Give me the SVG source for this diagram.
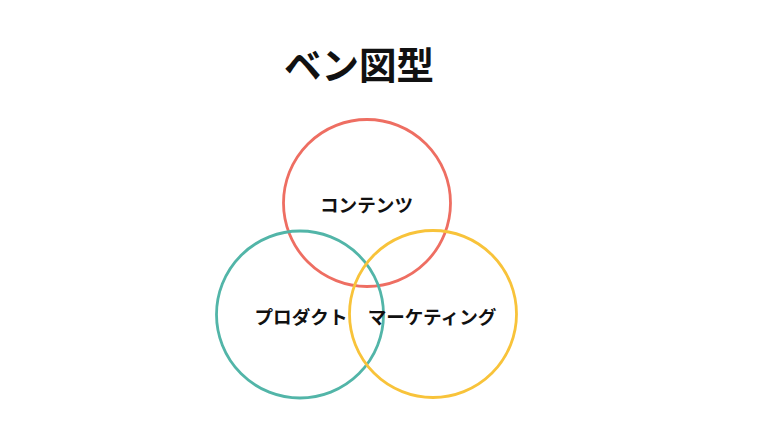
<svg xmlns="http://www.w3.org/2000/svg" width="768" height="437" viewBox="0 0 768 437">
<style>
.t{font-family:"Noto Sans CJK JP","Noto Sans",sans-serif;font-weight:bold;fill:#111;text-anchor:middle}
.c{fill:none;stroke-width:2.8}
</style>
<rect width="768" height="437" fill="#ffffff"/>
<text class="t" x="359" y="79" font-size="37.5">ベン図型</text>
<g id="contents"><circle class="c" cx="367" cy="203" r="83.5" stroke="#EE6E62"/><text class="t" x="366.5" y="212" font-size="18.6">コンテンツ</text></g>
<g id="product"><circle class="c" cx="300" cy="314.5" r="83.5" stroke="#52B5A8"/><text class="t" x="301" y="324" font-size="18.6">プロダクト</text></g>
<g id="marketing"><circle class="c" cx="433" cy="314" r="83.5" stroke="#F8C33A"/><text class="t" x="432" y="324" font-size="18.6">マーケティング</text></g>
<g id="connectors"></g>
</svg>
